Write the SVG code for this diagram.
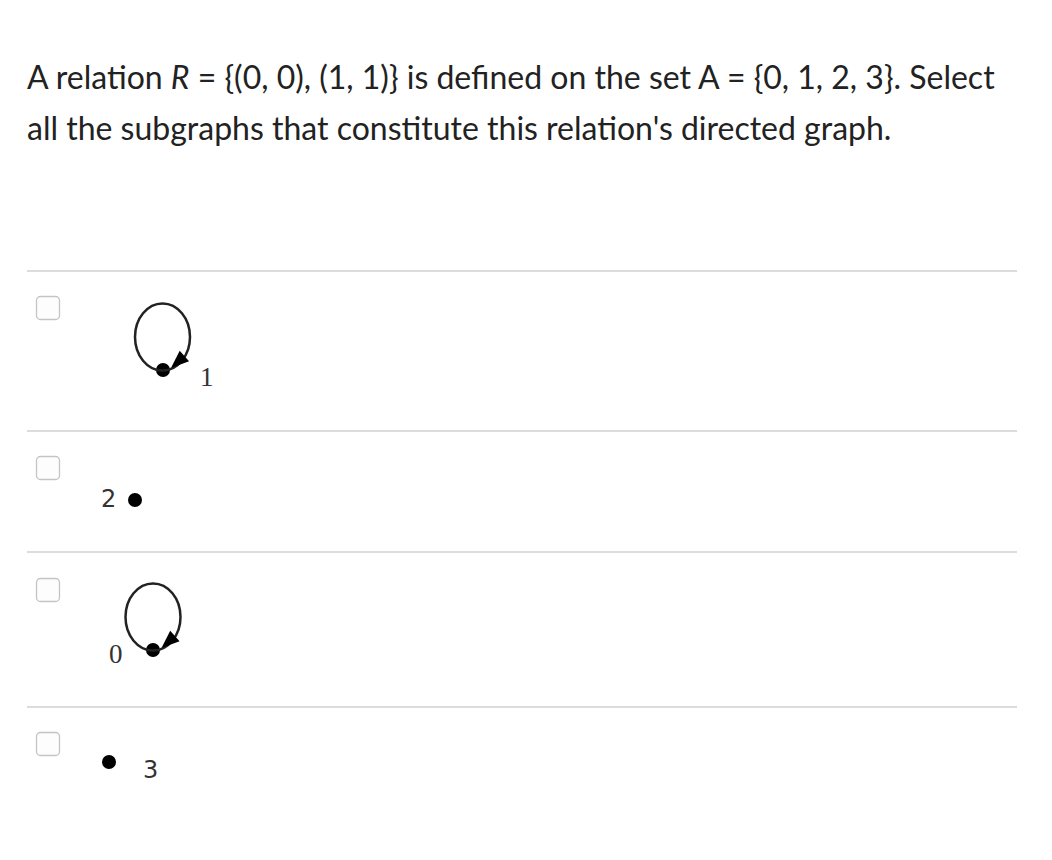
<svg xmlns="http://www.w3.org/2000/svg" xmlns:xlink="http://www.w3.org/1999/xlink" width="1052" height="860" viewBox="0 0 1052 860">
  <style>
    .q { font-family: Lato, "Open Sans", sans-serif; font-size: 32px; fill: #222; }
    .sep { stroke: #dcdcdc; stroke-width: 2; }
    .cb { fill: #fdfdfd; stroke: #c4c4c4; stroke-width: 1.3; }
    .loop { fill: none; stroke: #222; stroke-width: 2.5; }
    .dot { fill: #000; }
    .lblserif { font-family: "Liberation Serif", "DejaVu Serif", serif; font-size: 27px; fill: #333; }
    .lblsans { font-family: "DejaVu Sans", "Liberation Sans", sans-serif; font-size: 24px; fill: #333; }
  </style>
  <defs>
    <path id="arrowhead" d="M0,0 L-18,-7 L-18,7 Z" fill="#000"/>
  </defs>
  <rect width="1052" height="860" fill="#fff"/>

  <g id="question">
    <text class="q" x="27" y="89">A relation <tspan font-style="italic">R</tspan> = {(0, 0), (1, 1)} is defined on the set A = {0, 1, 2, 3}. Select</text>
    <text class="q" x="27" y="140">all the subgraphs that constitute this relation's directed graph.</text>
  </g>

  <g id="separators">
    <line class="sep" x1="27" y1="271" x2="1017" y2="271"/>
    <line class="sep" x1="27" y1="431" x2="1017" y2="431"/>
    <line class="sep" x1="27" y1="552" x2="1017" y2="552"/>
    <line class="sep" x1="27" y1="707" x2="1017" y2="707"/>
  </g>

  <g id="option1">
    <rect class="cb" x="36.5" y="296.5" width="23" height="23" rx="4"/>
    <circle id="node1" class="dot" cx="163" cy="370" r="7"/>
    <text class="lblserif" x="200" y="386">1</text>
  </g>

  <g id="option2">
    <rect class="cb" x="36.5" y="456.5" width="23" height="23" rx="4"/>
    <text class="lblsans" x="101" y="507">2</text>
    <circle id="node2" class="dot" cx="135" cy="500" r="7"/>
  </g>

  <g id="option3">
    <rect class="cb" x="36.5" y="578.5" width="23" height="23" rx="4"/>
    <circle id="node0" class="dot" cx="153" cy="650" r="7"/>
    <text class="lblserif" x="109" y="663">0</text>
  </g>

  <g id="option4">
    <rect class="cb" x="36.5" y="732.5" width="23" height="23" rx="4"/>
    <circle id="node3" class="dot" cx="109" cy="762" r="7"/>
    <text class="lblsans" x="143" y="778">3</text>
  </g>

  <g id="connectors">
    <ellipse class="loop" cx="162.5" cy="337" rx="27.5" ry="33.5"/>
    <use xlink:href="#arrowhead" transform="translate(171,368) rotate(138)"/>
    <ellipse class="loop" cx="153" cy="617" rx="27.5" ry="33.5"/>
    <use xlink:href="#arrowhead" transform="translate(161.5,648) rotate(138)"/>
  </g>
</svg>
